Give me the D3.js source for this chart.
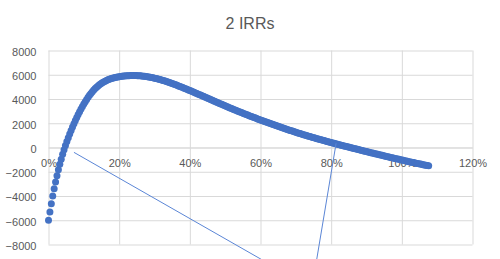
<!DOCTYPE html>
<html>
<head>
<meta charset="utf-8">
<script src="https://cdn.jsdelivr.net/npm/d3@7"></script>
<style>
  body { margin: 0; background: #fff; }
  svg { display: block; font-family: "Liberation Sans", Arial, sans-serif; }
</style>
</head>
<body>
<svg id="chart" width="500" height="259"></svg>
<script>
// chart title
const chartTitle = '2 IRRs';

// discount rate step between two points (0.4%)
const rateStep = 0.004;

// NPV, one value per rate (0%, 0.4%, 0.8% ... 107.6%)
const npvValues = [
  -6000, -5310, -4645, -4010, -3410, -2845, -2320, -1830, -1380, -960,
  -565, -193, 159, 494, 814, 1119, 1411, 1691, 1961, 2221,
  2471, 2713, 2946, 3170, 3384, 3588, 3782, 3966, 4140, 4304,
  4458, 4602, 4736, 4860, 4974, 5078, 5173, 5259, 5337, 5407,
  5470, 5527, 5578, 5624, 5665, 5702, 5735, 5765, 5792, 5816,
  5838, 5858, 5875, 5890, 5902, 5912, 5920, 5926, 5930, 5932,
  5933, 5932, 5929, 5924, 5917, 5908, 5897, 5884, 5869, 5853,
  5836, 5817, 5796, 5773, 5748, 5721, 5693, 5663, 5632, 5600,
  5567, 5532, 5496, 5459, 5421, 5382, 5342, 5301, 5259, 5216,
  5172, 5127, 5082, 5036, 4990, 4943, 4896, 4848, 4800, 4751,
  4702, 4652, 4602, 4552, 4502, 4452, 4401, 4350, 4299, 4248,
  4197, 4146, 4095, 4044, 3993, 3942, 3891, 3840, 3789, 3739,
  3689, 3639, 3589, 3539, 3489, 3439, 3388, 3338, 3288, 3239,
  3190, 3141, 3093, 3045, 2997, 2950, 2903, 2856, 2809, 2763,
  2717, 2671, 2626, 2581, 2536, 2491, 2447, 2403, 2359, 2315,
  2271, 2228, 2185, 2142, 2099, 2057, 2015, 1973, 1931, 1890,
  1849, 1808, 1767, 1726, 1686, 1646, 1606, 1566, 1527, 1488,
  1449, 1410, 1372, 1334, 1296, 1258, 1221, 1184, 1147, 1111,
  1075, 1039, 1004, 969, 934, 900, 866, 832, 798, 764,
  731, 698, 665, 632, 600, 568, 536, 504, 472, 440,
  408, 377, 346, 315, 284, 254, 224, 194, 164, 134,
  104, 74, 44, 14, -16, -46, -76, -105, -134, -163,
  -192, -221, -250, -279, -308, -337, -366, -395, -424, -453,
  -481, -509, -537, -565, -593, -621, -649, -677, -705, -733,
  -761, -789, -817, -844, -871, -898, -925, -952, -979, -1006,
  -1033, -1060, -1087, -1114, -1140, -1166, -1192, -1218, -1243, -1268,
  -1293, -1318, -1343, -1367, -1391, -1415, -1439, -1463, -1486, -1509
];

// axis ticks
const xTicks = [0, 0.2, 0.4, 0.6, 0.8, 1.0, 1.2];
const yTicks = [-8000, -6000, -4000, -2000, 0, 2000, 4000, 6000, 8000];

// the two hand drawn pointer lines (rate, npv) -> (rate, npv)
const pointerFrom = [[0.072, -400], [0.814, 350]];
const pointerTo = [[0.656, -10120], [0.754, -10120]];

const rates = npvValues.map((v, i) => i * rateStep);
const points = rates.map((r, i) => ({rate: r, npv: npvValues[i]}));

const svg = d3.select('#chart');
const plotLeft = 48.5, plotRight = 472.5, plotTop = 50.5, plotBottom = 244.5;

const x = d3.scaleLinear().domain([0, 1.2]).range([plotLeft, plotRight]);
const y = d3.scaleLinear().domain([-8000, 8000]).range([plotBottom, plotTop]);

const gridColor = '#d9d9d9';
const textColor = '#595959';

// title
svg.append('text')
  .attr('x', 250)
  .attr('y', 28.5)
  .attr('text-anchor', 'middle')
  .style('font-size', '16px')
  .style('fill', textColor)
  .text(chartTitle);

// horizontal grid
svg.append('g')
  .attr('transform', 'translate(' + plotLeft + ',0)')
  .call(d3.axisLeft(y).tickValues(yTicks).tickSize(-(plotRight - plotLeft)).tickFormat(''))
  .call(g => g.select('.domain').remove())
  .call(g => g.selectAll('line').attr('stroke', gridColor));

// vertical grid
svg.append('g')
  .attr('transform', 'translate(0,' + plotBottom + ')')
  .call(d3.axisBottom(x).tickValues(xTicks).tickSize(-(plotBottom - plotTop)).tickFormat(''))
  .call(g => g.select('.domain').remove())
  .call(g => g.selectAll('line').attr('stroke', gridColor));

// y labels
svg.append('g')
  .attr('transform', 'translate(' + plotLeft + ',0)')
  .call(d3.axisLeft(y).tickValues(yTicks).tickSize(0).tickPadding(12).tickFormat(d3.format('d')))
  .call(g => g.select('.domain').remove())
  .call(g => g.selectAll('text')
    .attr('dy', '0.45em')
    .style('font-size', '11px')
    .style('font-family', '"Liberation Sans", Arial, sans-serif')
    .style('fill', textColor));

// x axis through zero
const xAxis = svg.append('g')
  .attr('transform', 'translate(0,' + y(0) + ')')
  .call(d3.axisBottom(x).tickValues(xTicks).tickSize(0).tickPadding(12).tickFormat(d3.format('.0%')));
xAxis.select('.domain').attr('stroke', gridColor);
xAxis.selectAll('text')
  .style('font-size', '11px')
  .style('font-family', '"Liberation Sans", Arial, sans-serif')
  .style('fill', textColor);

// npv points
svg.append('g')
  .selectAll('circle')
  .data(points)
  .enter().append('circle')
  .attr('cx', d => x(d.rate))
  .attr('cy', d => y(d.npv))
  .attr('r', 3.5)
  .style('fill', '#4472c4');

// pointer lines
svg.append('g')
  .selectAll('line')
  .data(pointerFrom)
  .enter().append('line')
  .attr('x1', d => x(d[0]))
  .attr('y1', d => y(d[1]))
  .attr('x2', (d, i) => x(pointerTo[i][0]))
  .attr('y2', (d, i) => y(pointerTo[i][1]))
  .style('stroke', '#5b86d6')
  .style('stroke-width', 1);
</script>
</body>
</html>
